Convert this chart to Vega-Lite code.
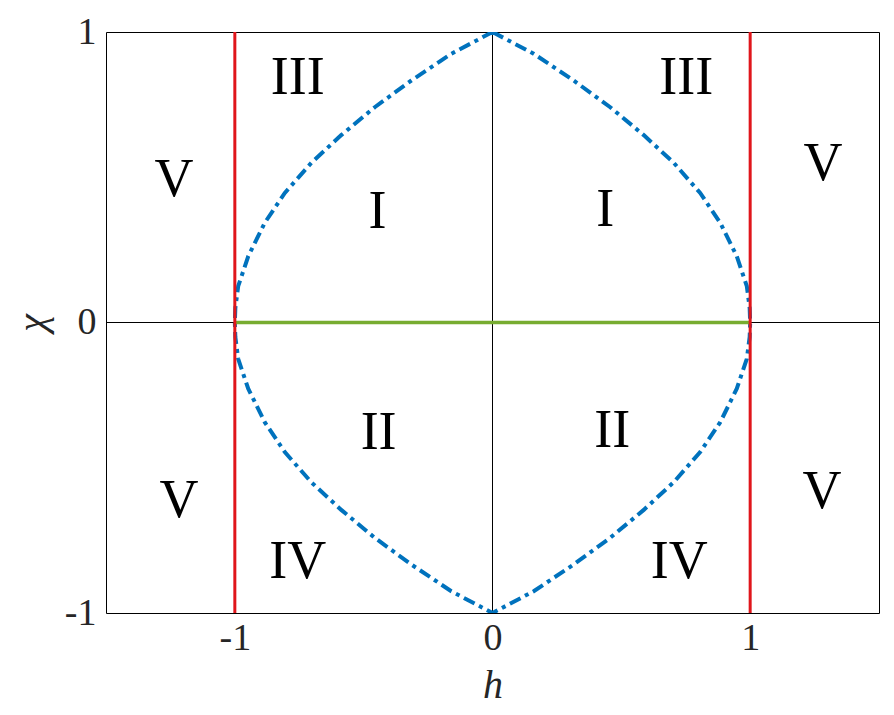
{
  "$schema": "https://vega.github.io/schema/vega-lite/v6.json",
  "width": 773,
  "height": 581,
  "autosize": "none",
  "padding": {"left": 106, "top": 32, "right": 15, "bottom": 102},
  "background": "white",
  "config": {
    "view": {"stroke": "black", "strokeWidth": 1},
    "font": "Liberation Serif"
  },
  "datasets": {
    "curve": [
      {"order": 0, "h": 0, "chi": 1},
      {"order": 1, "h": 0.16, "chi": 0.925},
      {"order": 2, "h": 0.315, "chi": 0.833},
      {"order": 3, "h": 0.457, "chi": 0.741},
      {"order": 4, "h": 0.587, "chi": 0.645},
      {"order": 5, "h": 0.703, "chi": 0.55},
      {"order": 6, "h": 0.806, "chi": 0.446},
      {"order": 7, "h": 0.884, "chi": 0.343},
      {"order": 8, "h": 0.948, "chi": 0.228},
      {"order": 9, "h": 0.987, "chi": 0.125},
      {"order": 10, "h": 0.998, "chi": 0.05},
      {"order": 11, "h": 1, "chi": 0},
      {"order": 12, "h": 0.998, "chi": -0.05},
      {"order": 13, "h": 0.987, "chi": -0.125},
      {"order": 14, "h": 0.948, "chi": -0.228},
      {"order": 15, "h": 0.884, "chi": -0.343},
      {"order": 16, "h": 0.806, "chi": -0.446},
      {"order": 17, "h": 0.703, "chi": -0.55},
      {"order": 18, "h": 0.587, "chi": -0.645},
      {"order": 19, "h": 0.457, "chi": -0.741},
      {"order": 20, "h": 0.315, "chi": -0.833},
      {"order": 21, "h": 0.16, "chi": -0.925},
      {"order": 22, "h": 0, "chi": -1},
      {"order": 23, "h": -0.16, "chi": -0.925},
      {"order": 24, "h": -0.315, "chi": -0.833},
      {"order": 25, "h": -0.457, "chi": -0.741},
      {"order": 26, "h": -0.587, "chi": -0.645},
      {"order": 27, "h": -0.703, "chi": -0.55},
      {"order": 28, "h": -0.806, "chi": -0.446},
      {"order": 29, "h": -0.884, "chi": -0.343},
      {"order": 30, "h": -0.948, "chi": -0.228},
      {"order": 31, "h": -0.987, "chi": -0.125},
      {"order": 32, "h": -0.998, "chi": -0.05},
      {"order": 33, "h": -1, "chi": 0},
      {"order": 34, "h": -0.998, "chi": 0.05},
      {"order": 35, "h": -0.987, "chi": 0.125},
      {"order": 36, "h": -0.948, "chi": 0.228},
      {"order": 37, "h": -0.884, "chi": 0.343},
      {"order": 38, "h": -0.806, "chi": 0.446},
      {"order": 39, "h": -0.703, "chi": 0.55},
      {"order": 40, "h": -0.587, "chi": 0.645},
      {"order": 41, "h": -0.457, "chi": 0.741},
      {"order": 42, "h": -0.315, "chi": 0.833},
      {"order": 43, "h": -0.16, "chi": 0.925},
      {"order": 44, "h": 0, "chi": 1}
    ],
    "regions": [
      {"label": "III", "h": -0.756, "chi": 0.843},
      {"label": "III", "h": 0.752, "chi": 0.843},
      {"label": "V", "h": -1.236, "chi": 0.492},
      {"label": "V", "h": 1.283, "chi": 0.544},
      {"label": "I", "h": -0.446, "chi": 0.379},
      {"label": "I", "h": 0.438, "chi": 0.386},
      {"label": "II", "h": -0.442, "chi": -0.382},
      {"label": "II", "h": 0.465, "chi": -0.372},
      {"label": "V", "h": -1.217, "chi": -0.616},
      {"label": "V", "h": 1.279, "chi": -0.582},
      {"label": "IV", "h": -0.756, "chi": -0.823},
      {"label": "IV", "h": 0.725, "chi": -0.823}
    ]
  },
  "layer": [
    {
      "data": {"values": [{"h": 0}]},
      "mark": {"type": "rule", "color": "black", "strokeWidth": 1},
      "encoding": {
        "x": {
          "field": "h",
          "type": "quantitative",
          "scale": {"domain": [-1.5, 1.5], "nice": false, "zero": false},
          "axis": {
            "values": [-1, 0, 1],
            "labelExpr": "'' + datum.value",
            "domain": false,
            "ticks": false,
            "grid": false,
            "labelFontSize": 38,
            "labelColor": "#262626",
            "labelPadding": 6,
            "title": "h",
            "titleFontSize": 40,
            "titleFontStyle": "italic",
            "titleFontWeight": "normal",
            "titleColor": "#262626",
            "titlePadding": 8
          }
        }
      }
    },
    {
      "data": {"values": [{"chi": 0}]},
      "mark": {"type": "rule", "color": "black", "strokeWidth": 1},
      "encoding": {
        "y": {
          "field": "chi",
          "type": "quantitative",
          "scale": {"domain": [-1, 1], "nice": false, "zero": false},
          "axis": {
            "values": [-1, 0, 1],
            "labelExpr": "'' + datum.value",
            "domain": false,
            "ticks": false,
            "grid": false,
            "labelFontSize": 38,
            "labelColor": "#262626",
            "labelPadding": 10,
            "title": "χ",
            "titleFontSize": 40,
            "titleFontStyle": "italic",
            "titleFontWeight": "normal",
            "titleColor": "#262626",
            "titlePadding": 12
          }
        }
      }
    },
    {
      "data": {"name": "curve"},
      "mark": {"type": "line", "color": "#0072BD", "strokeWidth": 4, "strokeDash": [12, 5, 4, 5], "clip": true},
      "encoding": {
        "x": {"field": "h", "type": "quantitative"},
        "y": {"field": "chi", "type": "quantitative"},
        "order": {"field": "order", "type": "quantitative"}
      }
    },
    {
      "data": {"values": [{"h1": -1, "h2": 1, "chi": 0}]},
      "mark": {"type": "rule", "color": "#77AC30", "strokeWidth": 3.5},
      "encoding": {
        "x": {"field": "h1", "type": "quantitative"},
        "x2": {"field": "h2"},
        "y": {"field": "chi", "type": "quantitative"}
      }
    },
    {
      "data": {"values": [{"h": -1}, {"h": 1}]},
      "mark": {"type": "rule", "color": "#E0161B", "strokeWidth": 3},
      "encoding": {
        "x": {"field": "h", "type": "quantitative"}
      }
    },
    {
      "data": {"name": "regions"},
      "mark": {"type": "text", "fontSize": 54, "color": "black", "font": "Liberation Serif", "baseline": "middle", "align": "center"},
      "encoding": {
        "x": {"field": "h", "type": "quantitative"},
        "y": {"field": "chi", "type": "quantitative"},
        "text": {"field": "label"}
      }
    }
  ]
}
